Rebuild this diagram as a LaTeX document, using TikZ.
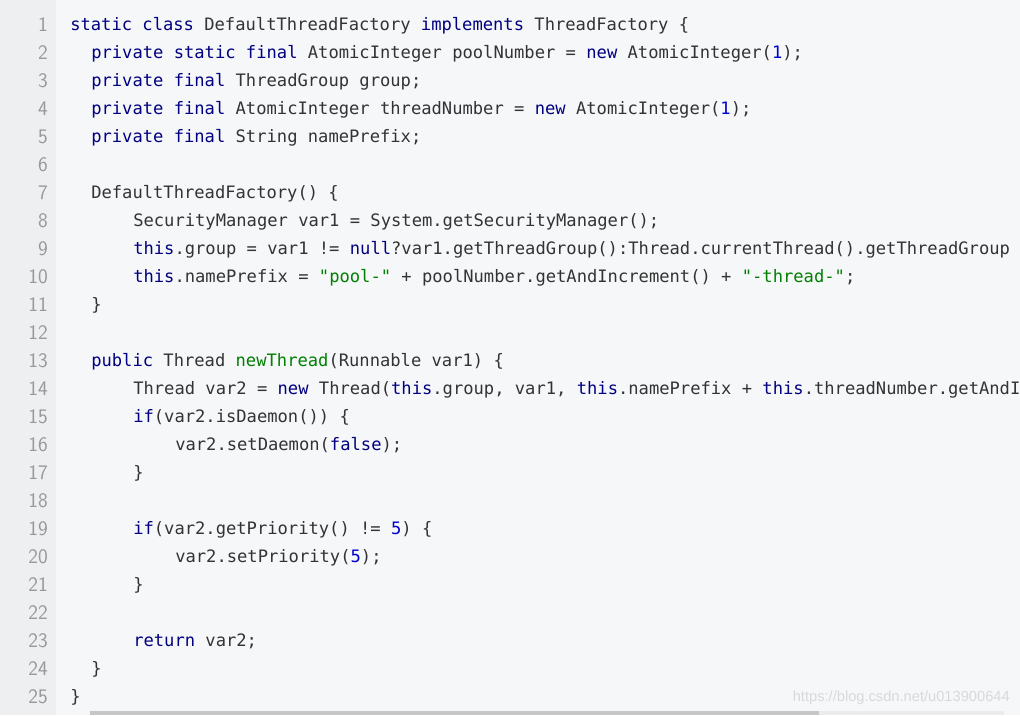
\documentclass[tikz,border=0pt]{standalone}
\usepackage{fontspec}
\newfontfamily\code{DejaVu Sans Mono}
\newfontfamily\wm{Liberation Sans}
\definecolor{bg}{HTML}{F6F7F9}
\definecolor{gut}{HTML}{EEEFF1}
\definecolor{kwc}{HTML}{000080}
\definecolor{stc}{HTML}{008000}
\definecolor{nmc}{HTML}{0000CD}
\definecolor{txt}{HTML}{333333}
\definecolor{lnc}{HTML}{999999}
\newcommand\kw[1]{\textcolor{kwc}{#1}}
\newcommand\sg[1]{\textcolor{stc}{#1}}
\newcommand\nm[1]{\textcolor{nmc}{#1}}
\begin{document}
\begin{tikzpicture}[x=0.75pt,y=-0.75pt,
  codeline/.style={anchor=base west,inner sep=0pt,font=\code\fontsize{12.85}{15}\selectfont,text=txt},
  lnum/.style={anchor=base east,inner sep=0pt,font=\sffamily\fontsize{15.5}{17}\selectfont,text=lnc}]
\useasboundingbox (0,0) rectangle (1020,715);
\clip (0,0) rectangle (1020,715);
\fill[bg] (0,0) rectangle (1020,715);
\fill[gut] (0,0) rectangle (56,715);
\fill[gray!45] (90,711) rectangle (819,715);
\fill[gray!15] (819,711) rectangle (1004,715);
\foreach \i in {1,...,25}{\node[lnum] (n\i) at (48,{31+28.04*(\i-1)}) {\i};}
\def\L#1#2#3{\node[codeline] (l#1) at ({70+10.5*#2},{30+28.04*(#1-1)}) {#3};}
\L{1}{0}{\kw{static} \kw{class} DefaultThreadFactory \kw{implements} ThreadFactory \{}
\L{2}{2}{\kw{private} \kw{static} \kw{final} AtomicInteger poolNumber = \kw{new} AtomicInteger(\nm{1});}
\L{3}{2}{\kw{private} \kw{final} ThreadGroup group;}
\L{4}{2}{\kw{private} \kw{final} AtomicInteger threadNumber = \kw{new} AtomicInteger(\nm{1});}
\L{5}{2}{\kw{private} \kw{final} String namePrefix;}
\L{7}{2}{DefaultThreadFactory() \{}
\L{8}{6}{SecurityManager var1 = System.getSecurityManager();}
\L{9}{6}{\kw{this}.group = var1 != \kw{null}?var1.getThreadGroup():Thread.currentThread().getThreadGroup}
\L{10}{6}{\kw{this}.namePrefix = \sg{"pool-"} + poolNumber.getAndIncrement() + \sg{"-thread-"};}
\L{11}{2}{\}}
\L{13}{2}{\kw{public} Thread \sg{newThread}(Runnable var1) \{}
\L{14}{6}{Thread var2 = \kw{new} Thread(\kw{this}.group, var1, \kw{this}.namePrefix + \kw{this}.threadNumber.getAndI}
\L{15}{6}{\kw{if}(var2.isDaemon()) \{}
\L{16}{10}{var2.setDaemon(\kw{false});}
\L{17}{6}{\}}
\L{19}{6}{\kw{if}(var2.getPriority() != \nm{5}) \{}
\L{20}{10}{var2.setPriority(\nm{5});}
\L{21}{6}{\}}
\L{23}{6}{\kw{return} var2;}
\L{24}{2}{\}}
\L{25}{0}{\}}
\node[anchor=base east,inner sep=0pt,font=\wm\fontsize{11}{13}\selectfont,text=gray!30] (wm) at (1010,701) {https://blog.csdn.net/u013900644};
\end{tikzpicture}
\end{document}
